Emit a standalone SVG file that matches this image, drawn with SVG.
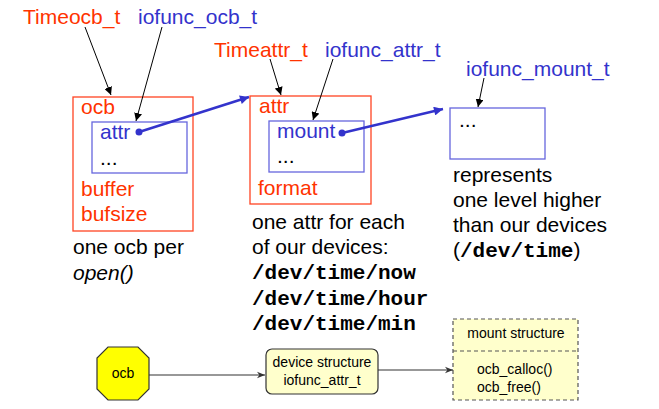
<svg xmlns="http://www.w3.org/2000/svg" width="659" height="409" viewBox="0 0 659 409">
<style>
text{font-family:"Liberation Sans",Arial,sans-serif;}
.lbl{font-size:21px;}
.red{fill:#FF3300;}
.blue{fill:#3333CC;}
.blk{fill:#000;}
.mono{font-family:"Liberation Mono","Courier New",monospace;font-weight:bold;font-size:21px;}
.rbox{fill:none;stroke:#FF4422;stroke-width:1.3;}
.bbox{fill:none;stroke:#6666DD;stroke-width:1.3;}
.thin{stroke:#000;stroke-width:1;fill:none;marker-end:url(#ah);}
.bl{stroke:#3333CC;stroke-width:2.5;fill:none;marker-end:url(#bh);}
.sm{font-size:14px;fill:#000;}
.flow{stroke:#333;stroke-width:1.2;fill:none;marker-end:url(#fh);}
</style>
<defs>
<marker id="ah" viewBox="0 0 10 10" refX="10" refY="5" markerWidth="8" markerHeight="8" orient="auto" markerUnits="userSpaceOnUse"><path d="M0,0 L10,5 L0,10 z" fill="#000"/></marker>
<marker id="bh" viewBox="0 0 10 10" refX="10" refY="5" markerWidth="10" markerHeight="9" orient="auto" markerUnits="userSpaceOnUse"><path d="M0,0 L10,5 L0,10 z" fill="#3333CC"/></marker>
<marker id="fh" viewBox="0 0 10 10" refX="10" refY="5" markerWidth="9" markerHeight="8" orient="auto" markerUnits="userSpaceOnUse"><path d="M0,1 L10,5 L0,9 L3,5 z" fill="#333"/></marker>
</defs>

<g id="labels">
<text class="lbl red" x="23" y="24">Timeocb_t</text>
<text class="lbl blue" x="138" y="24">iofunc_ocb_t</text>
<text class="lbl red" x="214" y="57">Timeattr_t</text>
<text class="lbl blue" x="325" y="57">iofunc_attr_t</text>
<text class="lbl blue" x="466" y="76">iofunc_mount_t</text>
</g>

<g id="ocb-node">
<rect class="rbox" x="73" y="97" width="120" height="134"/>
<text class="lbl red" x="81" y="114">ocb</text>
<rect class="bbox" x="92" y="122" width="95" height="51"/>
<text class="lbl blue" x="100" y="139">attr</text>
<circle cx="139" cy="132" r="3.5" fill="#3333CC"/>
<text class="lbl blk" x="100" y="165">...</text>
<text class="lbl red" x="81" y="196">buffer</text>
<text class="lbl red" x="81" y="221">bufsize</text>
<text class="lbl blk" x="73" y="254">one ocb per</text>
<text class="lbl blk" x="73" y="280" font-style="italic">open()</text>
</g>

<g id="attr-node">
<rect class="rbox" x="250" y="96" width="121" height="108"/>
<text class="lbl red" x="259" y="113">attr</text>
<rect class="bbox" x="269" y="121" width="95" height="51"/>
<text class="lbl blue" x="277" y="138">mount</text>
<circle cx="342" cy="133" r="3.5" fill="#3333CC"/>
<text class="lbl blk" x="277" y="163">...</text>
<text class="lbl red" x="258" y="195">format</text>
<text class="lbl blk" x="252" y="229">one attr for each</text>
<text class="lbl blk" x="252" y="254">of our devices:</text>
<text class="mono" x="252" y="279">/dev/time/now</text>
<text class="mono" x="252" y="305">/dev/time/hour</text>
<text class="mono" x="252" y="330">/dev/time/min</text>
</g>

<g id="mount-node">
<rect class="bbox" x="450" y="108" width="95" height="51"/>
<text class="lbl blk" x="459" y="127">...</text>
<text class="lbl blk" x="453" y="182">represents</text>
<text class="lbl blk" x="453" y="207">one level higher</text>
<text class="lbl blk" x="453" y="232">than our devices</text>
<text class="lbl blk" x="453" y="257">(<tspan class="mono">/dev/time</tspan>)</text>
</g>

<g id="ocb-oct">
<polygon points="108,347 138,347 149,358 149,389 138,400 108,400 97,389 97,358" fill="#FFFF00" stroke="#333" stroke-width="1.2"/>
<text class="sm" x="123" y="378" text-anchor="middle">ocb</text>
</g>

<g id="device-structure">
<rect x="266" y="349" width="112" height="45" rx="6" fill="#FFFFCC" stroke="#333" stroke-width="1.2"/>
<text class="sm" x="322" y="367" text-anchor="middle">device structure</text>
<text class="sm" x="322" y="385" text-anchor="middle">iofunc_attr_t</text>
</g>

<g id="mount-structure">
<rect x="453" y="319" width="125" height="81" fill="#FFFFCC" stroke="#555" stroke-width="1.2" stroke-dasharray="4,3"/>
<line x1="453" y1="351" x2="578" y2="351" stroke="#555" stroke-width="1.2" stroke-dasharray="4,3"/>
<text class="sm" x="516" y="338" text-anchor="middle">mount structure</text>
<text class="sm" x="477" y="374">ocb_calloc()</text>
<text class="sm" x="477" y="392">ocb_free()</text>
</g>

<g id="connectors">
<line class="thin" x1="85" y1="27" x2="111" y2="95"/>
<line class="thin" x1="162" y1="27" x2="136" y2="121"/>
<line class="thin" x1="270" y1="59" x2="281" y2="95"/>
<line class="thin" x1="333" y1="59" x2="313" y2="120"/>
<line class="thin" x1="484" y1="78" x2="478" y2="107"/>
<line class="bl" x1="139" y1="132" x2="249" y2="97"/>
<line class="bl" x1="342" y1="133" x2="443" y2="109"/>
<line class="flow" x1="149" y1="375" x2="265" y2="375"/>
<line class="flow" x1="378" y1="370" x2="453" y2="370"/>
</g>
</svg>
